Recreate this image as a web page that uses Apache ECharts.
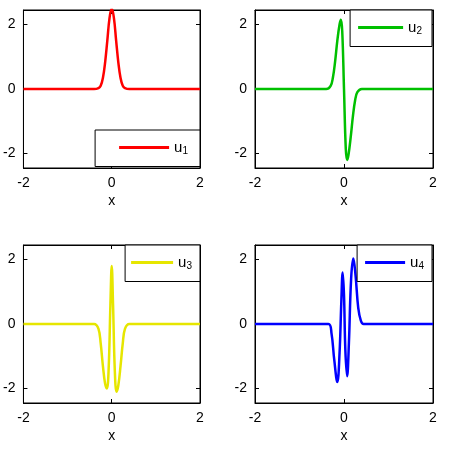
<!DOCTYPE html>
<html><head><meta charset="utf-8">
<script src="https://cdn.jsdelivr.net/npm/echarts@6/dist/echarts.min.js"></script>
<style>html,body{margin:0;padding:0;background:#fff}#c{width:474px;height:460px}</style>
</head><body><div id="c"></div>
<script>
const xTicks = [-2, 0, 2];
const yTicks = [-2, 0, 2];
const u1 = [[-2,0],[-0.4,0],[-0.3,0.03],[-0.25,0.1],[-0.2,0.34],[-0.15,0.82],[-0.1,1.5],[-0.05,2.2],[0,2.5],[0.05,2.2],[0.1,1.5],[0.15,0.82],[0.2,0.34],[0.25,0.1],[0.3,0.03],[0.4,0],[2,0]];
const u2 = [[-2,0],[-0.4,0],[-0.3,0.1],[-0.25,0.35],[-0.2,0.85],[-0.15,1.5],[-0.1,2.0],[-0.07,2.15],[-0.04,1.8],[0,0],[0.04,-1.85],[0.07,-2.2],[0.1,-2.05],[0.15,-1.5],[0.2,-0.85],[0.25,-0.35],[0.3,-0.1],[0.4,0],[2,0]];
const u3 = [[-2,0],[-0.4,0],[-0.3,-0.15],[-0.25,-0.6],[-0.2,-1.3],[-0.15,-1.85],[-0.11,-2.0],[-0.07,-1.4],[-0.03,0.6],[0,1.8],[0.03,0.6],[0.07,-1.45],[0.11,-2.1],[0.15,-1.9],[0.2,-1.3],[0.25,-0.6],[0.3,-0.15],[0.4,0],[2,0]];
const u4 = [[-2,0],[-0.35,0],[-0.28,-0.3],[-0.22,-1.1],[-0.15,-1.8],[-0.1,-0.9],[-0.06,0.7],[-0.03,1.6],[0,0.9],[0.03,-0.8],[0.07,-1.62],[0.11,-0.6],[0.16,1.4],[0.21,2.03],[0.26,1.5],[0.32,0.5],[0.38,0.1],[0.44,0],[2,0]];
const seriesData = [u1, u2, u3, u4];
const names = ['u1','u2','u3','u4'];
const colors = ['#ff0000','#00c000','#e6e600','#0000ff'];
const grids = [[22,10],[255,10],[22,245],[255,245]];
const legendPos = [
  {right:274, top:130, pad:[10,12,10,24], iw:50},
  {right:42, top:10, pad:[10,10,10,8], iw:45},
  {right:274, top:245, pad:[10,8,10,6], iw:42},
  {right:42, top:245, pad:[10,8,10,8], iw:40}
];
const font = 'Liberation Sans';
const opt = {animation:false, grid:[], xAxis:[], yAxis:[], series:[], legend:[], textStyle:{fontFamily:font}};
grids.forEach((g,i)=>{
  opt.grid.push({left:g[0], top:g[1], width:178, height:158, show:true, borderColor:'#000', borderWidth:1});
  const ax = {min:-2, max:2, interval:2, gridIndex:i, splitLine:{show:false},
    axisLine:{onZero:false, lineStyle:{color:'#000'}}, axisTick:{inside:true, length:4, lineStyle:{color:'#000'}}};
  opt.xAxis.push(Object.assign({}, ax, {type:'value', position:'bottom', name:'x', nameLocation:'middle', nameGap:26,
    nameTextStyle:{fontSize:14, color:'#000'}, axisLabel:{fontSize:14, color:'#000', margin:8}}));
  opt.xAxis.push(Object.assign({}, ax, {type:'value', position:'top', axisLabel:{show:false}}));
  const ay = {min:-2.45, max:2.45, gridIndex:i, splitLine:{show:false}, axisLine:{onZero:false, lineStyle:{color:'#000'}},
    axisTick:{inside:true, length:4, customValues:yTicks, lineStyle:{color:'#000'}}};
  opt.yAxis.push(Object.assign({}, ay, {type:'value', position:'left',
    axisLabel:{fontSize:14, color:'#000', customValues:yTicks, margin:8}}));
  opt.yAxis.push(Object.assign({}, ay, {type:'value', position:'right', axisLabel:{show:false}}));
  opt.series.push({type:'line', name:names[i], xAxisIndex:2*i, yAxisIndex:2*i, data:seriesData[i], smooth:0.4,
    showSymbol:false, lineStyle:{color:colors[i], width:2.5}, itemStyle:{color:colors[i]}});
  const lp = legendPos[i];
  opt.legend.push({data:[names[i]], right:lp.right, top:lp.top, padding:lp.pad, selectedMode:false,
    backgroundColor:'#fff', borderColor:'#000', borderWidth:1, borderRadius:0,
    itemWidth:lp.iw, itemHeight:3, icon:'rect', itemGap:0,
    formatter: n => '{a|u}{b|' + n.slice(1) + '}',
    textStyle:{rich:{a:{fontSize:15, color:'#000', fontFamily:font}, b:{fontSize:10, color:'#000', verticalAlign:'bottom', padding:[8,0,0,0], fontFamily:font}}}});
});
const ch = echarts.init(document.getElementById('c'));
ch.setOption(opt);
</script></body></html>
